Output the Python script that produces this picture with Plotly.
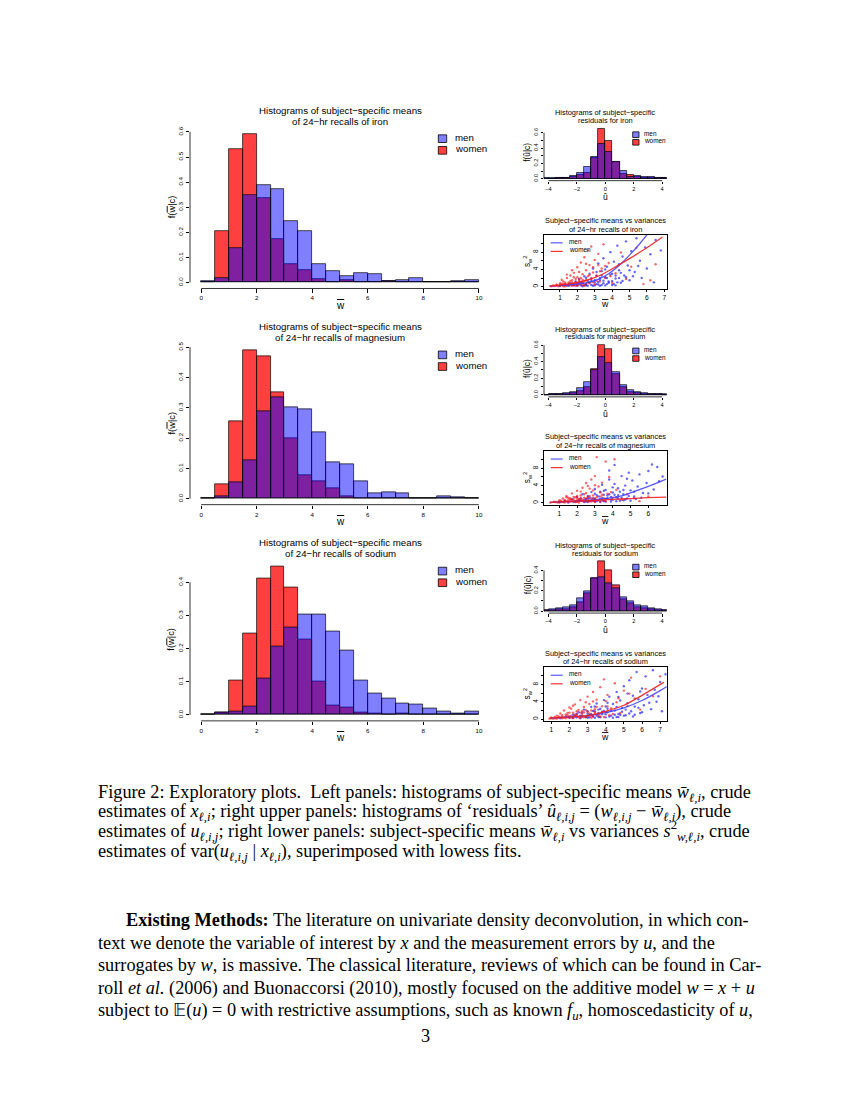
import plotly.graph_objects as go

W, H = 850, 1100          # browser page
OFF = 8                   # default body margin of the html page
FIG_W, FIG_H = W - 2 * OFF, H - 2 * OFF
SANS = "Liberation Sans, Arial, Helvetica, sans-serif"
SERIF = "Liberation Serif, Times New Roman, serif"

# ---------------- data ----------------
BIN_WIDTH = 0.5
MEAN_BIN_LEFT = [0.0, 0.5, 1.0, 1.5, 2.0, 2.5, 3.0, 3.5, 4.0, 4.5,
                 5.0, 5.5, 6.0, 6.5, 7.0, 7.5, 8.0, 8.5, 9.0, 9.5]
RESID_BIN_LEFT = [-4.5, -4.0, -3.5, -3.0, -2.5, -2.0, -1.5, -1.0, -0.5,
                  0.0, 0.5, 1.0, 1.5, 2.0, 2.5, 3.0, 3.5, 4.0]

iron_mean_men = [0.004, 0.016, 0.137, 0.350, 0.390, 0.373, 0.247, 0.204, 0.075, 0.047,
                 0.026, 0.038, 0.034, 0.007, 0.008, 0.017, 0.000, 0.000, 0.004, 0.009]
iron_mean_women = [0.003, 0.204, 0.533, 0.592, 0.336, 0.173, 0.073, 0.051, 0.012, 0.003,
                   0.009, 0.001, 0.003, 0.006, 0.000, 0.000, 0.000, 0.000, 0.003, 0.000]
mag_mean_men = [0.003, 0.008, 0.054, 0.126, 0.287, 0.336, 0.301, 0.295, 0.220, 0.121,
                0.113, 0.058, 0.019, 0.022, 0.018, 0.003, 0.003, 0.008, 0.004, 0.001]
mag_mean_women = [0.003, 0.049, 0.254, 0.490, 0.470, 0.351, 0.200, 0.078, 0.058, 0.035,
                  0.008, 0.002, 0.001, 0.003, 0.000, 0.002, 0.002, 0.002, 0.003, 0.000]
sod_mean_men = [0.001, 0.006, 0.009, 0.027, 0.111, 0.206, 0.265, 0.304, 0.304, 0.251,
                0.193, 0.103, 0.064, 0.050, 0.036, 0.032, 0.019, 0.010, 0.005, 0.010]
sod_mean_women = [0.001, 0.007, 0.103, 0.247, 0.412, 0.448, 0.385, 0.227, 0.100, 0.030,
                  0.023, 0.008, 0.004, 0.002, 0.004, 0.001, 0.000, 0.000, 0.000, 0.000]

iron_resid_men = [0.005, 0.005, 0.013, 0.010, 0.043, 0.078, 0.148, 0.280, 0.460,
                  0.350, 0.220, 0.104, 0.030, 0.040, 0.026, 0.020, 0.015, 0.010]
iron_resid_women = [0.004, 0.004, 0.010, 0.008, 0.020, 0.048, 0.078, 0.275, 0.650,
                    0.490, 0.215, 0.065, 0.048, 0.020, 0.015, 0.010, 0.010, 0.005]
mag_resid_men = [0.003, 0.005, 0.010, 0.024, 0.036, 0.077, 0.154, 0.300, 0.460,
                 0.380, 0.275, 0.120, 0.057, 0.036, 0.016, 0.010, 0.006, 0.004]
mag_resid_women = [0.002, 0.004, 0.008, 0.015, 0.025, 0.045, 0.100, 0.310, 0.600,
                   0.550, 0.250, 0.095, 0.036, 0.016, 0.010, 0.005, 0.004, 0.002]
sod_resid_men = [0.005, 0.013, 0.030, 0.033, 0.056, 0.125, 0.190, 0.320, 0.330,
                 0.275, 0.220, 0.138, 0.092, 0.056, 0.043, 0.026, 0.013, 0.008]
sod_resid_women = [0.004, 0.007, 0.015, 0.020, 0.040, 0.090, 0.177, 0.318, 0.490,
                   0.400, 0.250, 0.120, 0.072, 0.040, 0.023, 0.018, 0.010, 0.006]

# subject-specific (mean, variance) pairs
iron_men_pts = [(1.0,0.2),(1.3,0.4),(1.5,0.2),(1.6,0.8),(1.8,0.3),(1.9,1.2),(2.0,0.5),(2.1,1.8),
                (2.2,0.3),(2.3,0.9),(2.4,2.4),(2.5,0.6),(2.6,1.4),(2.7,3.0),(2.8,0.4),(2.8,1.9),
                (2.9,4.2),(3.0,1.0),(3.1,2.5),(3.2,0.5),(3.2,5.4),(3.3,1.6),(3.4,3.6),(3.5,0.8),
                (3.5,6.6),(3.6,2.2),(3.7,4.6),(3.8,1.2),(3.9,8.0),(4.0,3.0),(4.0,0.4),(4.1,5.8),
                (4.2,1.9),(4.3,9.5),(4.4,3.8),(4.5,0.9),(4.6,7.0),(4.7,2.6),(4.8,10.5),(4.9,4.9),
                (5.0,1.5),(5.1,8.2),(5.3,3.4),(5.4,11.2),(5.6,6.0),(5.7,2.0),(5.9,9.1),(6.0,4.2),
                (6.2,7.5),(6.4,1.0),(6.5,10.8),(3.0,0.3),(2.6,0.2),(3.7,0.6),(4.2,0.3),(2.2,1.1),
                (1.7,0.5),(3.3,0.2),(2.4,0.4),(6.8,8.4),
                (2.0,0.2),(2.3,0.1),(2.5,0.3),(2.7,0.9),(2.9,0.2),(3.0,1.5),(3.1,0.6),(3.2,1.1),
                (3.3,2.0),(3.4,0.4),(3.5,1.4),(3.6,0.3),(3.7,2.0),(3.8,0.9),(3.9,2.8),(4.0,1.3),
                (4.1,0.6),(4.2,2.6),(4.3,1.0),(4.4,2.0),(4.5,3.2),(4.6,1.3),(4.8,2.2),(5.0,3.8),
                (5.2,2.4),(2.8,1.3),(3.1,3.4),(3.6,4.0),(4.4,5.2),(5.5,4.8),(1.4,0.3),(1.9,0.6),
                (2.1,0.9),(2.5,2.0),(3.4,2.6)]
iron_women_pts = [(0.5,0.1),(0.7,0.2),(0.8,0.5),(0.9,0.1),(1.0,0.8),(1.1,0.3),(1.2,1.2),(1.2,0.1),
                  (1.3,0.6),(1.4,2.0),(1.5,0.4),(1.5,1.0),(1.6,2.6),(1.7,0.2),(1.7,1.5),(1.8,0.7),
                  (1.8,3.2),(1.9,1.1),(2.0,0.3),(2.0,2.2),(2.0,4.5),(2.1,1.6),(2.2,0.6),(2.2,5.6),
                  (2.3,2.9),(2.3,1.0),(2.4,6.8),(2.4,0.2),(2.5,3.8),(2.5,1.5),(2.6,2.4),(2.6,8.4),
                  (2.7,0.8),(2.7,5.0),(2.8,1.9),(2.8,9.3),(2.9,3.3),(3.0,0.5),(3.0,6.2),(3.1,2.6),
                  (3.2,7.6),(3.3,1.2),(3.4,4.2),(3.5,9.8),(3.6,2.0),(3.8,5.5),(4.0,0.9),(4.2,3.1),
                  (4.5,7.9),(4.8,1.8),(5.1,4.6),(5.4,9.0),(5.8,0.6),(6.2,1.5),(6.5,5.2),(1.0,0.2),
                  (1.3,0.1),(1.6,0.3),(1.9,0.2),(2.1,0.5),
                  (0.6,0.3),(0.8,0.2),(1.0,0.4),(1.1,0.7),(1.2,0.4),(1.3,0.9),(1.4,0.3),(1.5,0.7),
                  (1.6,1.3),(1.7,0.9),(1.8,0.4),(1.9,1.8),(2.0,0.8),(2.1,1.2),(2.2,2.0),(2.3,0.4),
                  (2.4,1.3),(2.5,0.6),(2.6,1.0),(2.7,2.7),(2.9,1.0),(3.1,1.4),(3.3,3.6),(3.6,4.8),
                  (3.9,2.4),(1.1,1.6),(1.4,2.8),(1.7,3.8),(2.1,3.4),(2.5,5.3),(2.9,4.5),(3.2,5.0),
                  (1.2,0.6),(1.8,2.2),(2.3,1.6)]
mag_men_pts = [(1.0,0.2),(1.3,0.5),(1.5,0.1),(1.7,0.9),(1.9,0.3),(2.0,1.4),(2.2,0.5),(2.3,2.0),
               (2.4,0.2),(2.5,0.9),(2.6,1.6),(2.7,0.4),(2.8,2.5),(2.9,1.1),(3.0,0.3),(3.0,3.2),
               (3.1,1.8),(3.2,0.7),(3.3,2.6),(3.4,4.2),(3.4,1.2),(3.5,0.4),(3.6,3.0),(3.7,1.7),
               (3.8,5.4),(3.8,7.5),(3.9,0.8),(4.0,2.4),(4.1,8.8),(4.1,4.4),(4.2,1.3),(4.3,3.4),
               (4.4,0.5),(4.5,6.2),(4.6,2.0),(4.7,4.0),(4.8,1.0),(4.9,7.0),(5.0,2.9),(5.1,5.2),
               (5.2,1.5),(5.4,3.8),(5.5,6.6),(5.7,2.3),(5.9,4.6),(6.0,7.4),(6.2,8.9),(6.3,3.1),
               (6.5,8.3),(6.6,5.0),(6.8,6.1),(2.1,0.6),(2.6,0.3),(3.3,0.2),(3.9,0.3),(4.6,0.6),
               (3.6,0.9),(2.9,0.5),(4.3,1.8),(5.3,0.9),
               (1.8,0.2),(2.0,0.4),(2.2,1.0),(2.4,0.7),(2.5,0.3),(2.7,1.2),(2.8,0.6),(3.0,0.9),
               (3.1,0.4),(3.2,1.5),(3.3,0.9),(3.4,0.6),(3.5,1.9),(3.6,0.3),(3.7,1.1),(3.8,2.0),
               (3.9,1.4),(4.0,0.7),(4.1,1.9),(4.2,0.4),(4.3,1.1),(4.4,2.6),(4.5,1.2),(4.6,3.0),
               (4.7,0.8),(4.9,1.6),(5.0,0.5),(5.2,2.6),(5.6,1.2),(6.0,2.2),(3.0,2.1),(2.6,1.1),
               (3.5,2.8),(4.0,3.6),(4.8,5.6)]
mag_women_pts = [(0.5,0.1),(0.7,0.3),(0.9,0.1),(1.0,0.6),(1.1,0.2),(1.2,1.0),(1.3,0.4),(1.4,1.6),
                 (1.5,0.2),(1.6,0.8),(1.7,2.2),(1.8,0.5),(1.9,1.3),(2.0,0.2),(2.0,2.8),(2.1,0.9),
                 (2.2,1.7),(2.3,3.5),(2.3,0.4),(2.4,1.2),(2.5,2.3),(2.5,4.6),(2.6,0.7),(2.7,1.6),
                 (2.8,5.4),(2.8,0.3),(2.9,2.9),(3.0,1.0),(3.0,6.2),(3.1,10.6),(3.2,3.8),(3.3,1.5),
                 (3.4,4.7),(3.5,0.5),(3.6,9.6),(3.7,2.1),(3.8,6.0),(4.0,1.2),(4.1,10.1),(4.2,3.0),
                 (4.5,0.7),(4.8,2.0),(5.2,1.1),(5.5,0.4),(6.0,1.5),(1.0,0.1),(1.3,0.1),(1.6,0.3),
                 (1.9,0.4),(2.2,0.6),(2.6,0.2),(2.9,0.6),(3.3,0.3),(1.5,1.2),(2.4,2.0),(2.7,3.3),
                 (3.4,1.9),(2.1,0.1),(1.8,1.4),(3.0,0.2),
                 (0.8,0.2),(1.0,0.3),(1.1,0.5),(1.2,0.2),(1.3,0.7),(1.4,0.4),(1.5,0.6),(1.6,1.1),
                 (1.7,0.3),(1.7,0.7),(1.8,0.9),(1.9,0.2),(2.0,0.6),(2.0,1.6),(2.1,0.4),(2.2,1.1),
                 (2.3,0.8),(2.4,0.3),(2.5,1.0),(2.6,1.4),(2.7,0.5),(2.8,1.1),(2.9,1.7),(3.0,0.5),
                 (3.1,1.3),(3.2,0.6),(3.3,2.4),(3.5,1.1),(3.6,0.4),(3.9,2.5),(2.2,2.6),(2.6,3.9),
                 (1.4,1.3),(3.0,4.1),(2.0,1.1)]
sod_men_pts = [(1.5,0.2),(1.8,0.6),(2.0,0.3),(2.2,1.0),(2.4,0.4),(2.5,1.6),(2.7,0.6),(2.8,2.2),
               (3.0,0.3),(3.0,1.2),(3.2,2.8),(3.3,0.7),(3.4,1.8),(3.5,3.6),(3.6,0.5),(3.7,2.4),
               (3.8,1.1),(3.9,4.4),(4.0,0.4),(4.0,2.9),(4.1,1.6),(4.2,5.2),(4.3,0.8),(4.4,3.5),
               (4.5,2.0),(4.6,6.3),(4.7,1.2),(4.8,4.3),(4.9,2.6),(5.0,7.6),(5.1,0.9),(5.2,3.7),
               (5.3,9.0),(5.4,1.8),(5.5,5.4),(5.6,2.9),(5.7,10.9),(5.8,4.6),(5.9,1.4),(6.0,7.1),
               (6.1,3.2),(6.2,9.9),(6.3,5.6),(6.5,2.3),(6.6,11.3),(6.7,6.8),(6.8,4.0),(7.0,8.6),
               (7.1,1.8),(7.3,10.4),(2.6,0.2),(3.4,0.3),(4.6,0.5),(3.1,0.9),(3.9,1.9),(4.8,1.0),
               (5.5,0.6),(2.3,0.7),(3.6,1.4),(4.4,0.3),
               (2.0,0.6),(2.2,0.3),(2.4,1.2),(2.6,0.8),(2.7,1.5),(2.9,0.5),(3.0,1.8),(3.1,0.4),
               (3.2,1.2),(3.3,1.9),(3.5,0.8),(3.6,2.2),(3.7,0.4),(3.8,1.6),(4.0,1.1),(4.1,2.4),
               (4.2,0.6),(4.3,1.9),(4.5,1.0),(4.6,2.8),(4.7,0.5),(4.9,1.7),(5.0,0.8),(5.1,2.2),
               (5.3,1.3),(5.6,1.0),(5.8,2.6),(6.0,1.6),(6.4,3.8),(6.9,5.3),(3.4,2.9),(4.1,3.8),
               (4.7,5.1),(5.2,5.9),(5.9,6.4)]
sod_women_pts = [(0.9,0.1),(1.0,0.4),(1.2,0.2),(1.3,0.8),(1.4,0.3),(1.5,1.3),(1.6,0.5),(1.7,2.0),
                 (1.8,0.2),(1.9,0.9),(2.0,2.7),(2.1,0.4),(2.2,1.5),(2.3,3.4),(2.4,0.7),(2.5,2.1),
                 (2.6,0.3),(2.6,4.4),(2.7,1.2),(2.8,2.8),(2.9,0.5),(3.0,5.2),(3.0,1.7),(3.1,3.5),
                 (3.2,0.8),(3.3,6.3),(3.4,2.3),(3.5,4.5),(3.6,1.1),(3.7,7.4),(3.8,3.0),(3.9,9.2),
                 (4.0,1.6),(4.1,5.6),(4.3,2.5),(4.5,8.3),(4.6,3.9),(4.8,1.4),(5.0,6.6),(5.2,3.0),
                 (5.4,9.6),(5.6,4.8),(5.9,2.2),(6.2,7.0),(6.6,5.3),(7.0,9.9),(1.1,0.1),(1.6,0.2),
                 (2.0,0.3),(2.3,0.6),(2.8,0.4),(3.2,0.3),(1.9,1.4),(2.4,1.1),(3.4,1.2),(2.1,2.4),
                 (3.7,0.6),(4.2,0.9),(1.4,0.6),(2.7,1.9),
                 (1.0,0.2),(1.2,0.5),(1.3,0.1),(1.5,0.4),(1.6,0.9),(1.7,0.3),(1.8,1.1),(1.9,0.5),
                 (2.0,1.5),(2.1,0.8),(2.2,0.2),(2.3,1.1),(2.4,1.8),(2.5,0.4),(2.6,1.5),(2.7,0.6),
                 (2.8,1.6),(2.9,2.1),(3.0,0.6),(3.1,1.3),(3.2,2.0),(3.3,0.5),(3.4,1.6),(3.5,2.8),
                 (3.6,0.8),(3.8,1.7),(3.9,0.5),(4.1,2.9),(4.4,1.2),(4.7,4.8),(2.2,3.1),(2.9,3.9),
                 (3.3,4.1),(4.0,4.2),(5.3,5.9)]

# lowess fits (x, fitted variance)
iron_men_fit = [(0.4,0.1),(1.5,0.4),(2.5,0.9),(3.2,1.7),(3.8,3.0),(4.4,4.9),(5.0,7.3),(5.6,10.0),(6.1,12.5)]
iron_women_fit = [(0.4,0.1),(1.2,0.5),(2.0,1.0),(2.8,1.8),(3.5,3.0),(4.2,4.6),(5.0,6.5),(6.0,9.0),(6.9,11.5)]
mag_men_fit = [(0.5,0.1),(2.0,0.4),(3.0,0.7),(4.0,1.2),(4.5,1.6),(5.0,2.3),(6.0,3.8),(7.0,5.5)]
mag_women_fit = [(0.5,0.1),(2.0,0.4),(3.0,0.6),(4.0,0.8),(5.0,1.0),(6.0,1.2),(7.0,1.35)]
sod_men_fit = [(1.0,0.2),(2.0,0.5),(3.0,0.8),(4.0,1.5),(5.0,2.6),(6.0,4.3),(7.0,6.6),(7.4,7.6)]
sod_women_fit = [(0.9,0.2),(2.0,0.5),(3.0,0.8),(4.0,1.8),(5.0,3.2),(6.0,5.5),(7.2,8.5)]

MEAN_XTICKS = [0, 2, 4, 6, 8, 10]
RESID_XTICKS = [-4, -2, 0, 2, 4]
RESID_XLABELS = ["−4", "−2", "0", "2", "4"]
iron_mean_yticks = [0.0, 0.1, 0.2, 0.3, 0.4, 0.5, 0.6]
mag_mean_yticks = [0.0, 0.1, 0.2, 0.3, 0.4, 0.5]
sod_mean_yticks = [0.0, 0.1, 0.2, 0.3, 0.4]
iron_resid_yticks = [0.0, 0.2, 0.4, 0.6]
iron_resid_yminor = [0.1, 0.3, 0.5]
mag_resid_yticks = [0.0, 0.2, 0.4, 0.6]
mag_resid_yminor = [0.1, 0.3, 0.5]
sod_resid_yticks = [0.0, 0.2, 0.4]
sod_resid_yminor = [0.1, 0.3]
SCAT_YTICKS = [0, 4, 8]
SCAT_YMINOR = [2, 6, 10]
iron_scat_xticks = [1, 2, 3, 4, 5, 6, 7]
mag_scat_xticks = [1, 2, 3, 4, 5, 6]
sod_scat_xticks = [1, 2, 3, 4, 5, 6, 7]
iron_scat_xrange = [0.08, 7.14]
mag_scat_xrange = [0.14, 7.03]
sod_scat_xrange = [0.60, 7.36]
SCAT_YRANGE = [-0.46, 12.0]

NUTRIENTS = ["iron", "magnesium", "sodium"]

WBAR = '<span style="text-decoration:overline">w</span>'

CAPTION_LINES = [
    "Figure 2: Exploratory plots.  Left panels: histograms of subject-specific means <i>w̄</i><sub><i>ℓ,i</i></sub>, crude",
    "estimates of <i>x</i><sub><i>ℓ,i</i></sub>; right upper panels: histograms of ‘residuals’ <i>û</i><sub><i>ℓ,i,j</i></sub> = (<i>w</i><sub><i>ℓ,i,j</i></sub> − <i>w̄</i><sub><i>ℓ,i</i></sub>), crude",
    "estimates of <i>u</i><sub><i>ℓ,i,j</i></sub>; right lower panels: subject-specific means <i>w̄</i><sub><i>ℓ,i</i></sub> vs variances <i>s</i><sup>2</sup><sub><i>w,ℓ,i</i></sub>, crude",
    "estimates of var(<i>u</i><sub><i>ℓ,i,j</i></sub> | <i>x</i><sub><i>ℓ,i</i></sub>), superimposed with lowess fits.",
]
PARAGRAPH_LINES = [
    "<b>Existing Methods:</b> The literature on univariate density deconvolution, in which con-",
    "text we denote the variable of interest by <i>x</i> and the measurement errors by <i>u</i>, and the",
    "surrogates by <i>w</i>, is massive. The classical literature, reviews of which can be found in Car-",
    "roll <i>et al.</i> (2006) and Buonaccorsi (2010), mostly focused on the additive model <i>w</i> = <i>x</i> + <i>u</i>",
    "subject to 𝔼(<i>u</i>) = 0 with restrictive assumptions, such as known <i>f</i><sub><i>u</i></sub>, homoscedasticity of <i>u</i>,",
]
PAGE_NUMBER = "3"

# ---------------- styling ----------------
RED_FILL = "rgba(255,0,0,0.75)"
BLUE_FILL = "rgba(0,0,255,0.5)"
EDGE = "rgba(0,0,0,0.85)"
BLUE_PT = "rgba(0,0,255,0.6)"
RED_PT = "rgba(255,0,0,0.6)"
BLUE_LINE = "rgba(60,60,255,0.85)"
RED_LINE = "rgba(240,30,30,0.9)"
TEXT_SIZE = 18.3

ROW_OFFSETS = [0, 217, 434]

fig = go.Figure()
axes = {}
shapes = []
annos = []


def sid(n):
    return "" if n == 1 else str(n)


def px(x):
    return (x - OFF) / FIG_W


def py(y):
    return 1 - (y - OFF) / FIG_H


def text(x, y, s, size, family=SANS, angle=0, xanchor="center", yanchor="middle", dy=-1.5):
    annos.append(dict(x=px(x), y=py(y + dy), xref="paper", yref="paper", text=s, showarrow=False,
                      font=dict(size=size, family=family, color="black"), textangle=angle,
                      xanchor=xanchor, yanchor=yanchor, borderpad=0))


def fmt1(v):
    return f"{v:.1f}"


def set_axes(n, box, xr, yr, xt, xtt, yt, ytt, yminor, fsize, ticklen, boxed):
    s = sid(n)
    x0, x1, top, bottom = box
    common = dict(showgrid=False, zeroline=False, ticks="outside", ticklen=ticklen, tickwidth=0.7,
                  tickcolor="black", tickmode="array", fixedrange=True)
    xa = dict(domain=[px(x0), px(x1)], range=xr, tickvals=xt, ticktext=xtt,
              tickfont=dict(family=SANS, size=fsize, color="black"), anchor="y" + s, **common)
    ya = dict(domain=[py(bottom), py(top)], range=yr, tickvals=yt, ticktext=ytt, tickangle=-90,
              tickfont=dict(family=SANS, size=fsize, color="black"), anchor="x" + s, **common)
    if yminor:
        ya["minor"] = dict(tickmode="array", tickvals=yminor, ticks="outside", ticklen=ticklen,
                           tickwidth=0.7, tickcolor="black", showgrid=False)
    if boxed:
        for a in (xa, ya):
            a.update(showline=True, linecolor="black", linewidth=0.8, mirror=True)
    else:
        xa["showline"] = False
        ya["showline"] = False
        all_y = sorted(list(yt) + list(yminor or []))
        shapes.append(dict(type="line", xref="x" + s, yref="y" + s + " domain", x0=xt[0], x1=xt[-1],
                           y0=0, y1=0, line=dict(color="black", width=0.8)))
        shapes.append(dict(type="line", xref="x" + s + " domain", yref="y" + s, x0=0, x1=0,
                           y0=all_y[0], y1=all_y[-1], line=dict(color="black", width=0.8)))
    axes["xaxis" + s] = xa
    axes["yaxis" + s] = ya


def add_hist(n, lefts, men, women):
    s = sid(n)
    centers = [l + BIN_WIDTH / 2 for l in lefts]
    for vals, col, name in ((women, RED_FILL, "women"), (men, BLUE_FILL, "men")):
        fig.add_trace(go.Bar(x=centers, y=vals, width=BIN_WIDTH, name=name,
                             marker=dict(color=col, line=dict(color=EDGE, width=0.8)),
                             xaxis="x" + s, yaxis="y" + s, showlegend=False))


def square_legend(xs, ys_men, ys_women, tx, size):
    for (ya, yb), col, lab in ((ys_men, BLUE_FILL, "men"), (ys_women, RED_FILL, "women")):
        shapes.append(dict(type="rect", xref="paper", yref="paper", x0=px(xs[0]), x1=px(xs[1]),
                           y0=py(yb), y1=py(ya), fillcolor=col,
                           line=dict(color="black", width=0.8)))
        text(tx, (ya + yb) / 2, lab, size, xanchor="left")


def line_legend(xs, y_men, y_women, tx, size):
    for yy, col, lab in ((y_men, BLUE_LINE, "men"), (y_women, RED_LINE, "women")):
        shapes.append(dict(type="line", xref="paper", yref="paper", x0=px(xs[0]), x1=px(xs[1]),
                           y0=py(yy), y1=py(yy), line=dict(color=col, width=1.2)))
        text(tx, yy, lab, size, xanchor="left")


mean_men = [iron_mean_men, mag_mean_men, sod_mean_men]
mean_women = [iron_mean_women, mag_mean_women, sod_mean_women]
mean_yticks = [iron_mean_yticks, mag_mean_yticks, sod_mean_yticks]
resid_men = [iron_resid_men, mag_resid_men, sod_resid_men]
resid_women = [iron_resid_women, mag_resid_women, sod_resid_women]
resid_yticks = [iron_resid_yticks, mag_resid_yticks, sod_resid_yticks]
resid_yminor = [iron_resid_yminor, mag_resid_yminor, sod_resid_yminor]
pts_men = [iron_men_pts, mag_men_pts, sod_men_pts]
pts_women = [iron_women_pts, mag_women_pts, sod_women_pts]
fit_men = [iron_men_fit, mag_men_fit, sod_men_fit]
fit_women = [iron_women_fit, mag_women_fit, sod_women_fit]
scat_xticks = [iron_scat_xticks, mag_scat_xticks, sod_scat_xticks]
scat_xrange = [iron_scat_xrange, mag_scat_xrange, sod_scat_xrange]

for k, nut in enumerate(NUTRIENTS):
    r = ROW_OFFSETS[k]
    nL, nR, nS = 3 * k + 1, 3 * k + 2, 3 * k + 3

    # ---- left: histogram of subject-specific means
    m = max(max(mean_men[k]), max(mean_women[k]))
    span = MEAN_XTICKS[-1] - MEAN_XTICKS[0]
    set_axes(nL, (190, 490, 125.5 + r, 286.5 + r),
             [MEAN_XTICKS[0] - 0.04 * span, MEAN_XTICKS[-1] + 0.04 * span],
             [-0.04 * m, 1.04 * m], MEAN_XTICKS, [str(v) for v in MEAN_XTICKS],
             mean_yticks[k], [fmt1(v) for v in mean_yticks[k]], None, 6.2, 3.5, False)
    add_hist(nL, MEAN_BIN_LEFT, mean_men[k], mean_women[k])
    text(340, 109 + r, "Histograms of subject−specific means", 9.7)
    text(340, 120.5 + r, f"of 24−hr recalls of {nut}", 9.7)
    text(340, 305 + r, WBAR, 10)
    text(171.5, 206 + r, f"f({WBAR}|c)", 9.3, angle=-90)
    square_legend((438.3, 446.7), (132.3 + r, 140 + r), (144 + r, 151.7 + r), 453.5, 9.7)

    # ---- right upper: histogram of residuals
    m = max(max(resid_men[k]), max(resid_women[k]))
    set_axes(nR, (544, 666.7, 124.3 + r, 178.3 + r), [-4.32, 4.32], [-0.04 * m, 1.04 * m],
             RESID_XTICKS, RESID_XLABELS,
             resid_yticks[k], [fmt1(v) for v in resid_yticks[k]], resid_yminor[k],
             5.6, 2.5, False)
    add_hist(nR, RESID_BIN_LEFT, resid_men[k], resid_women[k])
    text(605.3, 111.7 + r, "Histograms of subject−specific", 7.4)
    text(605.3, 119.6 + r, f"residuals for {nut}", 7.4)
    text(605.3, 196.5 + r, "û", 8.5)
    text(527.5, 151.3 + r, "f(û|c)", 8.3, angle=-90)
    square_legend((632.7, 639.0), (129.3 + r, 135.0 + r), (137.0 + r, 142.6 + r), 643.3, 6.4)

    # ---- right lower: means vs variances
    s = sid(nS)
    set_axes(nS, (544, 666.7, 232.7 + r, 286.7 + r), scat_xrange[k], SCAT_YRANGE,
             scat_xticks[k], [str(v) for v in scat_xticks[k]], SCAT_YTICKS,
             [str(v) for v in SCAT_YTICKS], SCAT_YMINOR, 6.6, 2.5, True)
    for pts, col in ((pts_men[k], BLUE_PT), (pts_women[k], RED_PT)):
        fig.add_trace(go.Scatter(x=[p[0] for p in pts], y=[p[1] for p in pts], mode="markers",
                                 marker=dict(size=2.4, color=col), xaxis="x" + s, yaxis="y" + s,
                                 showlegend=False))
    for fit, col in ((fit_men[k], BLUE_LINE), (fit_women[k], RED_LINE)):
        fig.add_trace(go.Scatter(x=[p[0] for p in fit], y=[p[1] for p in fit], mode="lines",
                                 line=dict(color=col, width=1.3, shape="spline", smoothing=0.6),
                                 xaxis="x" + s, yaxis="y" + s, showlegend=False))
    text(605.3, 220 + r, "Subject−specific means vs variances", 7.4)
    text(605.3, 228.8 + r, f"of 24−hr recalls of {nut}", 7.4)
    text(605.3, 304 + r, WBAR, 8.8)
    text(527.5, 261 + r, "s<sub>w</sub><sup>2</sup>", 8.3, angle=-90)
    line_legend((550.7, 562.7), 240.7 + r, 249.3 + r, 567.5, 6.4)

# ---- caption and body text
cap_y = [793.5, 812, 831, 852.5]
for yy, line in zip(cap_y, CAPTION_LINES):
    text(97, yy, line, TEXT_SIZE, family=SERIF, xanchor="left", dy=0)
par_y = [920, 943, 966, 989, 1012]
for i, (yy, line) in enumerate(zip(par_y, PARAGRAPH_LINES)):
    text(125 if i == 0 else 97, yy, line, TEXT_SIZE, family=SERIF, xanchor="left", dy=0)
text(425, 1037, PAGE_NUMBER, TEXT_SIZE, family=SERIF, dy=0)

fig.update_layout(width=FIG_W, height=FIG_H, margin=dict(l=0, r=0, t=0, b=0, pad=0), autosize=False,
                  paper_bgcolor="white", plot_bgcolor="white", barmode="overlay", bargap=0,
                  showlegend=False, shapes=shapes, annotations=annos, **axes)
fig.write_html("out.html")
